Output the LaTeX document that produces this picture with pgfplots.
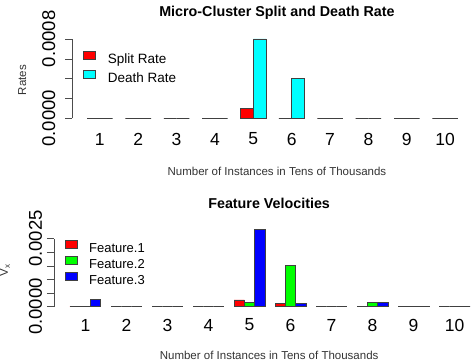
\documentclass[border=0pt]{standalone}
\usepackage{fontspec}
\setmainfont{Liberation Sans}
\usepackage{pgfplots}
\pgfplotsset{compat=1.18}
\definecolor{rred}{RGB}{255,0,0}
\definecolor{rcyan}{RGB}{0,255,255}
\definecolor{rgreen}{RGB}{0,255,0}
\definecolor{rblue}{RGB}{0,0,255}
\pgfplotsset{
  rbar/.style={
    scale only axis, clip=false,
    axis y line*=left, axis x line*=bottom,
    x axis line style={draw=none},
    y axis line style={draw=black!70, line width=0.6bp},
    major x tick style={draw=none},
    major y tick style={draw=black!70, line width=0.6bp},
    tick align=outside, major tick length=7bp,
    xtick={1,...,10},
    xticklabels={1,2,3,4,5,6,7,8,9,10},
    scaled y ticks=false,
    /pgf/number format/assume math mode=true,
    ybar=0pt,
    xticklabel style={font=\fontsize{17.5bp}{20bp}\selectfont, anchor=center, inner sep=0pt},
    yticklabel style={font=\fontsize{18.5bp}{20bp}\selectfont, rotate=90, anchor=south, inner sep=0pt},
    label style={font=\fontsize{11.5bp}{13bp}\selectfont, text=black!80},
    title style={font=\bfseries\fontsize{14.3bp}{16bp}\selectfont, anchor=base, yshift=0pt},
    xlabel style={anchor=base},
    ylabel style={anchor=base},
    every axis plot/.append style={draw=black!75, line width=0.6bp},
    legend cell align=left,
    legend image code/.code={\draw[#1] (0bp,0.6bp) rectangle (12bp,9bp);},
  }
}
\begin{document}
\begin{tikzpicture}
\path[use as bounding box] (0,0) rectangle (474bp,363bp);
% top chart
\begin{axis}[rbar,
  at={(72.2bp,244.7bp)}, anchor=south west,
  width=400.6bp, height=79.3bp,
  xmin=0.28, xmax=10.72, ymin=0, ymax=0.0008,
  bar width=12.8bp,
  ytick={0,0.0002,0.0004,0.0006,0.0008},
  yticklabels={0.0000,,,,0.0008},
  yticklabel shift=9.7bp,
  xticklabel shift=13.7bp,
  title={Micro-Cluster Split and Death Rate},
  title style={at={(axis description cs:0.511,1.213)}},
  xlabel={Number of Instances in Tens of Thousands},
  xlabel style={at={(axis description cs:0.511,-0.716)}},
  ylabel={Rates},
  ylabel style={at={(axis description cs:-0.1148,0.483)}},
  legend style={draw=none, fill=none, inner sep=0pt, outer sep=0pt,
    at={(axis description cs:0.0277,0.8525)}, anchor=north west,
    font=\fontsize{13.5bp}{15bp}\selectfont,
    nodes={inner sep=0pt, text height=10bp, text depth=3bp},
    row sep=3.6bp,
    /tikz/every odd column/.append style={column sep=12bp}},
]
\addplot[fill=rred] coordinates {(1,0) (2,0) (3,0) (4,0) (5,0.0001) (6,0) (7,0) (8,0) (9,0) (10,0)};
\addplot[fill=rcyan] coordinates {(1,0) (2,0) (3,0) (4,0) (5,0.0008) (6,0.0004) (7,0) (8,0) (9,0) (10,0)};
\legend{Split Rate, Death Rate}
\end{axis}
% bottom chart
\begin{axis}[rbar,
  at={(54bp,56.3bp)}, anchor=south west,
  width=432bp, height=68bp,
  xmin=0.235, xmax=10.765, ymin=0, ymax=0.0025,
  bar width=10.26bp,
  ytick={0,0.0005,0.001,0.0015,0.002,0.0025},
  yticklabels={0.0000,,,,,0.0025},
  yticklabel shift=4.7bp,
  xticklabel shift=11.3bp,
  title={Feature Velocities},
  title style={at={(axis description cs:0.498,1.362)}},
  xlabel={Number of Instances in Tens of Thousands},
  xlabel style={at={(axis description cs:0.498,-0.78)}},
  ylabel={V\textsubscript{x}},
  ylabel style={at={(axis description cs:-0.1065,0.54)}},
  legend style={draw=none, fill=none, inner sep=0pt, outer sep=0pt,
    at={(axis description cs:0.0255,0.985)}, anchor=north west,
    font=\fontsize{13bp}{15bp}\selectfont,
    nodes={inner sep=0pt, text height=10bp, text depth=3bp},
    row sep=0.3bp,
    /tikz/every odd column/.append style={column sep=11.5bp}},
]
\addplot[fill=rred] coordinates {(1,0.00002) (2,0) (3,0) (4,0) (5,0.00025) (6,0.000125) (7,0) (8,0) (9,0) (10,0)};
\addplot[fill=rgreen] coordinates {(1,0.00002) (2,0) (3,0) (4,0) (5,0.00015) (6,0.00152) (7,0) (8,0.00015) (9,0.00002) (10,0)};
\addplot[fill=rblue] coordinates {(1,0.00027) (2,0) (3,0) (4,0) (5,0.00285) (6,0.000125) (7,0) (8,0.00015) (9,0.00001) (10,0)};
\legend{Feature.1, Feature.2, Feature.3}
\end{axis}
\end{tikzpicture}
\end{document}
